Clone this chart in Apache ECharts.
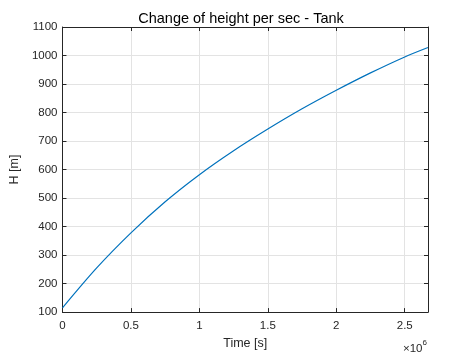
<!DOCTYPE html>
<html>
<head>
<meta charset="utf-8">
<script src="https://cdn.jsdelivr.net/npm/echarts@6/dist/echarts.min.js"></script>
<style>html,body{margin:0;padding:0;background:#fff}#c{width:474px;height:355px}</style>
</head>
<body>
<div id="c"></div>
<script>
// Time [s] sample points and height H [m]
const timeS = [0, 250000, 500000, 750000, 1000000, 1250000, 1500000, 1750000, 2000000, 2250000, 2500000, 2670000];
const heightM = [115, 255, 378, 487, 582, 666, 742, 813, 878, 939, 995, 1028];
const xTicks = [0, 0.5, 1, 1.5, 2, 2.5];
const yTicks = [100, 200, 300, 400, 500, 600, 700, 800, 900, 1000, 1100];

const FONT = '"Liberation Sans", Arial, sans-serif';
const TXT = '#262626';
const AX = '#262626';
const GRIDC = '#e3e3e3';

const chart = echarts.init(document.getElementById('c'), null, {renderer: 'canvas'});
const xMin = 0, xMax = 2670000, xInt = 500000;
const yMin = yTicks[0], yMax = yTicks[yTicks.length - 1], yInt = yTicks[1] - yTicks[0];

function xAxisCfg(pos, main) {
  return {
    type: 'value', position: pos, min: xMin, max: xMax, interval: xInt,
    axisLine: {show: true, onZero: false, lineStyle: {color: AX, width: 1}},
    axisTick: {show: true, inside: true, length: 4, lineStyle: {color: AX}},
    splitLine: {show: main, lineStyle: {color: GRIDC, width: 1}},
    axisLabel: {
      show: main, margin: 8, color: TXT, fontFamily: FONT, fontSize: 11.5,
      showMaxLabel: false,
      formatter: v => { const k = Math.round(v / 1e5) / 10; return xTicks.includes(k) ? String(k) : ''; }
    },
    name: main ? 'Time [s]' : '', nameLocation: 'middle', nameGap: 24,
    nameTextStyle: {color: TXT, fontFamily: FONT, fontSize: 12.5}
  };
}
function yAxisCfg(pos, main) {
  return {
    type: 'value', position: pos, min: yMin, max: yMax, interval: yInt,
    axisLine: {show: true, onZero: false, lineStyle: {color: AX, width: 1}},
    axisTick: {show: true, inside: true, length: 4, lineStyle: {color: AX}},
    splitLine: {show: main, lineStyle: {color: GRIDC, width: 1}},
    axisLabel: {show: main, margin: 5, color: TXT, fontFamily: FONT, fontSize: 11.5,
      formatter: v => String(v)},
    name: main ? 'H [m]' : '', nameLocation: 'middle', nameGap: 34, nameRotate: 90,
    nameTextStyle: {color: TXT, fontFamily: FONT, fontSize: 12.5}
  };
}

chart.setOption({
  animation: false,
  backgroundColor: '#fff',
  title: {
    text: 'Change of height per sec - Tank', left: 236, top: 6, textAlign: 'center',
    textStyle: {color: '#000', fontFamily: FONT, fontSize: 14.5, fontWeight: 'normal'}
  },
  grid: {left: 61, right: 46, top: 27, bottom: 40, containLabel: false},
  xAxis: [xAxisCfg('bottom', true), xAxisCfg('top', false)],
  yAxis: [yAxisCfg('left', true), yAxisCfg('right', false)],
  series: [{
    type: 'line', xAxisIndex: 0, yAxisIndex: 0,
    data: timeS.map((t, i) => [t, heightM[i]]),
    smooth: 0.3, showSymbol: false,
    lineStyle: {color: '#0072BD', width: 1.2}
  }],
  graphic: [{
    type: 'text', left: 403, top: 339,
    style: {
      text: '{a|×10}{b|6}', fill: TXT,
      rich: {
        a: {fontFamily: FONT, fontSize: 11.5, fill: TXT, verticalAlign: 'bottom'},
        b: {fontFamily: FONT, fontSize: 8, fill: TXT, verticalAlign: 'top', padding: [0, 0, 8, 0]}
      }
    }
  }]
});
</script>
</body>
</html>
